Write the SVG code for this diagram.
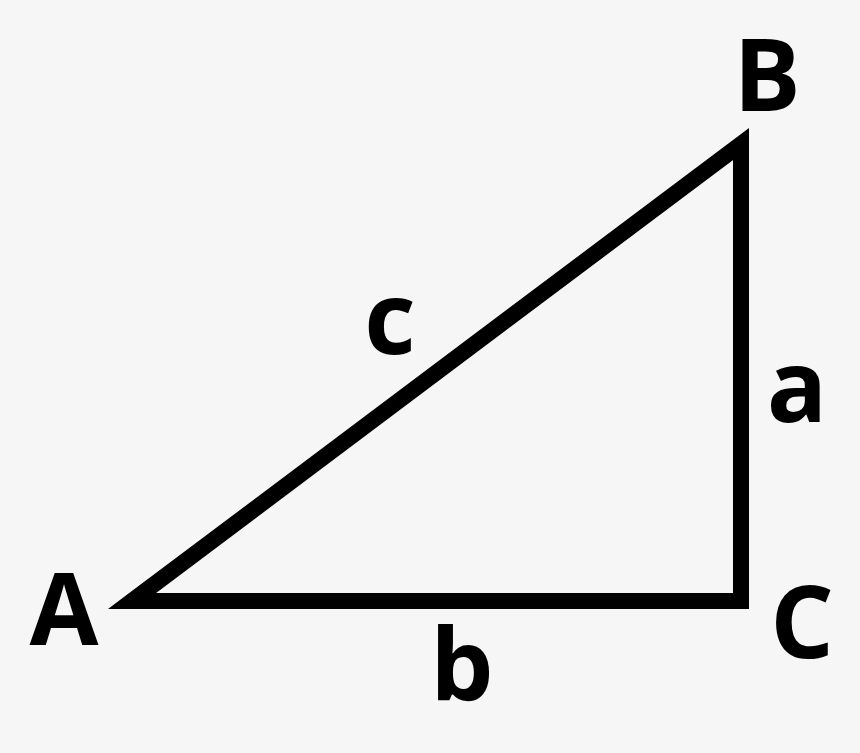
<svg xmlns="http://www.w3.org/2000/svg" width="860" height="753" viewBox="0 0 860 753">
<style>
.lbl{font-family:"Open Sans","DejaVu Sans",sans-serif;font-weight:bold;font-size:100px;fill:#000;text-anchor:middle}
</style>
<rect width="860" height="753" fill="#f6f6f6"/>
<g id="triangle">
<polygon points="132,601 741,144 741,601" fill="none" stroke="#000" stroke-width="16" stroke-linejoin="miter" stroke-miterlimit="10"/>
</g>
<g id="labels">
<text class="lbl" x="64" y="645">A</text>
<text class="lbl" x="767" y="111">B</text>
<text class="lbl" x="802" y="658">C</text>
<text class="lbl" x="797" y="422">a</text>
<text class="lbl" x="462" y="701">b</text>
<text class="lbl" x="390" y="354">c</text>
</g>
</svg>
